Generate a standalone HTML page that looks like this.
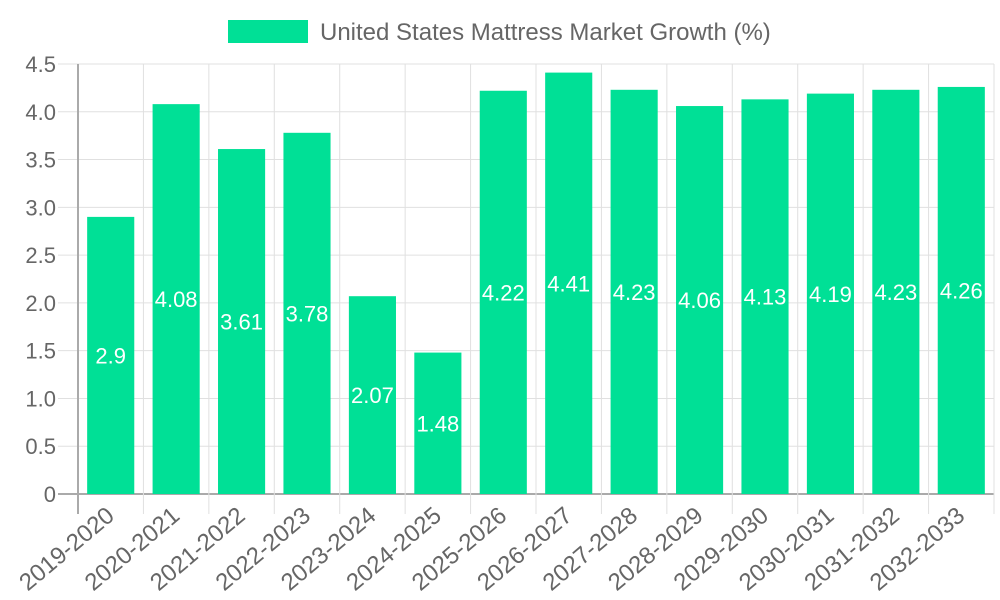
<!DOCTYPE html>
<html><head><meta charset="utf-8"><style>
body{margin:0;background:#fff;}
svg{display:block;font-family:"Liberation Sans",sans-serif;}
</style></head><body>
<svg id="chart" width="1000" height="600">
<g id="grid"></g>
<g id="bars"></g>
<g id="axes"></g>
<g>
<rect x="228" y="20" width="80" height="23" fill="#00e096"></rect>
<text x="320" y="40" font-size="24" fill="#666">United States Mattress Market Growth (%)</text>
</g>
</svg>
<script>
const categories=["2019-2020","2020-2021","2021-2022","2022-2023","2023-2024","2024-2025","2025-2026","2026-2027","2027-2028","2028-2029","2029-2030","2030-2031","2031-2032","2032-2033"];
const values=[2.9,4.08,3.61,3.78,2.07,1.48,4.22,4.41,4.23,4.06,4.13,4.19,4.23,4.26];
const yTicks=[0,0.5,1,1.5,2,2.5,3,3.5,4,4.5];
const yTickLabels=["0","0.5","1.0","1.5","2.0","2.5","3.0","3.5","4.0","4.5"];
const NS="http://www.w3.org/2000/svg";
const L=78,R=994,T=64,B=494,yMax=4.5;
const y=v=>B-(v/yMax)*(B-T);
const step=(R-L)/categories.length;
const x=i=>L+step*i;
function mk(tag,attrs,parent,text){const e=document.createElementNS(NS,tag);for(const k in attrs)e.setAttribute(k,attrs[k]);if(text!==undefined)e.textContent=text;parent.appendChild(e);return e;}
const grid=document.getElementById('grid'),bars=document.getElementById('bars'),axes=document.getElementById('axes');
yTicks.forEach((t,i)=>{
 const g=mk('line',{x1:58,x2:R,y1:y(t),y2:y(t),stroke:i===0?'#aaa':'#e0e0e0','stroke-width':i===0?2:1},grid);
 
 
 const tl=mk('text',{x:56,y:y(t)+8,'text-anchor':'end','font-size':22,fill:'#666'},axes,yTickLabels[i]);
 
 
});
for(let i=0;i<=categories.length;i++){
 const g=mk('line',{x1:x(i),x2:x(i),y1:T,y2:B+20,stroke:i===0?'#aaa':'#e0e0e0','stroke-width':i===0?2:1},grid);
 
 
}
const bw=step*0.72;
categories.forEach((c,i)=>{
 const cx=x(i)+step/2,v=values[i];
 const r=mk('rect',{x:cx-bw/2,y:y(v),width:bw,height:B-y(v),fill:'#00e096'},bars);
 
 
 const vl=mk('text',{x:cx,y:(y(v)+B)/2+8,'text-anchor':'middle','font-size':22,fill:'#fff'},bars,String(v));
 
 
 const ax=cx+5,ay=B+24;
 const xl=mk('text',{x:ax,y:ay,'text-anchor':'end','font-size':24,fill:'#666',transform:`rotate(-40 ${ax} ${ay})`},axes,c);
 
 
});
</script>
</body></html>
